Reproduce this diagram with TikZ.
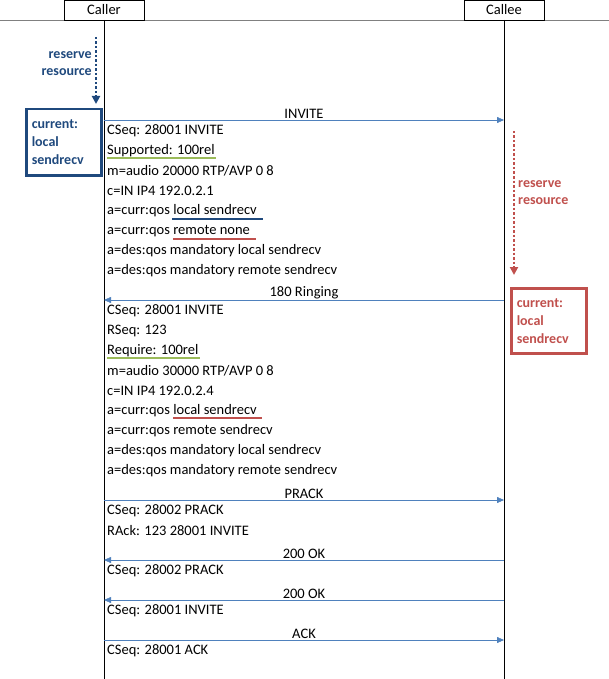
\documentclass[tikz,border=0pt]{standalone}
\usepackage{fontspec}
\setmainfont{Carlito}
\usetikzlibrary{arrows.meta}
\definecolor{navy}{HTML}{1F497D}
\definecolor{arr}{HTML}{4F81BD}
\definecolor{rd}{HTML}{C0504D}
\definecolor{gr}{HTML}{9BBB59}
\begin{document}
\begin{tikzpicture}[x=1pt,y=-1pt,
  txt/.style={anchor=west,inner sep=0pt,font=\fontsize{14.5}{16}\selectfont},
  lbl/.style={anchor=south,inner sep=1pt,text=black,font=\fontsize{14.5}{16}\selectfont},
  msg/.style={arr,-{Triangle[length=7pt,width=6pt]}},
  hdr/.style={draw,fill=white,minimum width=80pt,minimum height=20pt,inner sep=0pt,font=\fontsize{14.5}{16}\selectfont},
  ul/.style={line width=2pt}]
\useasboundingbox (0,0) rectangle (609,679);
\draw[gray] (0,20) -- (609,20);
\node[hdr] (caller) at (104,10) {Caller};
\node[hdr] (callee) at (504,10) {Callee};
\coordinate (a0) at (104,20); \coordinate (a1) at (104,679);
\coordinate (b0) at (504,20); \coordinate (b1) at (504,679);
\draw (a0) -- (a1); \draw (b0) -- (b1);
% messages
\foreach \y/\d/\t in {120/1/INVITE,300/0/180 Ringing,500/1/PRACK,560/0/200 OK,600/0/200 OK,640/1/ACK}{
  \coordinate (L\y) at (104,\y); \coordinate (R\y) at (504,\y);
  \ifnum\d=1 \draw[msg] (L\y) -- (R\y) node[lbl,midway] {\t};
  \else \draw[msg] (R\y) -- (L\y) node[lbl,midway] {\t}; \fi
}
\foreach \y/\t in {131/CSeq: 28001 INVITE,151/Supported: 100rel,171/{m=audio 20000 RTP/AVP 0 8},191/c=IN IP4 192.0.2.1,211/a=curr:qos local sendrecv,231/a=curr:qos remote none,251/a=des:qos mandatory local sendrecv,271/a=des:qos mandatory remote sendrecv,
311/CSeq: 28001 INVITE,331/RSeq: 123,351/Require: 100rel,371/{m=audio 30000 RTP/AVP 0 8},391/c=IN IP4 192.0.2.4,411/a=curr:qos local sendrecv,431/a=curr:qos remote sendrecv,451/a=des:qos mandatory local sendrecv,471/a=des:qos mandatory remote sendrecv,
511/CSeq: 28002 PRACK,531/RAck: 123 28001 INVITE,571/CSeq: 28002 PRACK,611/CSeq: 28001 INVITE,651/CSeq: 28001 ACK}
  \node[txt] at (107,\y) {\t};
% underlines
\draw[ul,gr] (107,158) -- (216,158);
\draw[ul,navy] (172,219) -- (263,219);
\draw[ul,rd] (173,239) -- (256,239);
\draw[ul,gr] (107,358) -- (200,358);
\draw[ul,rd] (173,418) -- (262,418);
% caller side
\coordinate (cs) at (96,37); \coordinate (ce) at (96,104);
\draw[navy,line width=2.5pt,dotted,-{Triangle[length=8pt,width=8pt]}] (cs) -- (ce);
\node[navy,anchor=east,align=right,font=\bfseries\fontsize{14}{17}\selectfont,inner sep=0pt] (cr) at (92,64) {reserve\\resource};
\node[draw=navy,line width=2.5pt,text=navy,align=left,anchor=north west,minimum width=75pt,minimum height=66pt,text width=64pt,inner sep=3pt,font=\bfseries\fontsize{14}{18}\selectfont] (cb) at (25,108) {current:\\local\\sendrecv};
% callee side
\coordinate (ds) at (514,131); \coordinate (de) at (514,275);
\draw[rd,line width=2.5pt,dotted,-{Triangle[length=8pt,width=8pt]}] (ds) -- (de);
\node[rd,anchor=west,align=left,font=\bfseries\fontsize{14}{17}\selectfont,inner sep=0pt] (dr) at (518,193) {reserve\\resource};
\node[draw=rd,line width=2.5pt,text=rd,align=left,anchor=north west,minimum width=75pt,minimum height=65pt,text width=64pt,inner sep=3pt,font=\bfseries\fontsize{14}{18}\selectfont] (db) at (510,287) {current:\\local\\sendrecv};
\end{tikzpicture}
\end{document}
